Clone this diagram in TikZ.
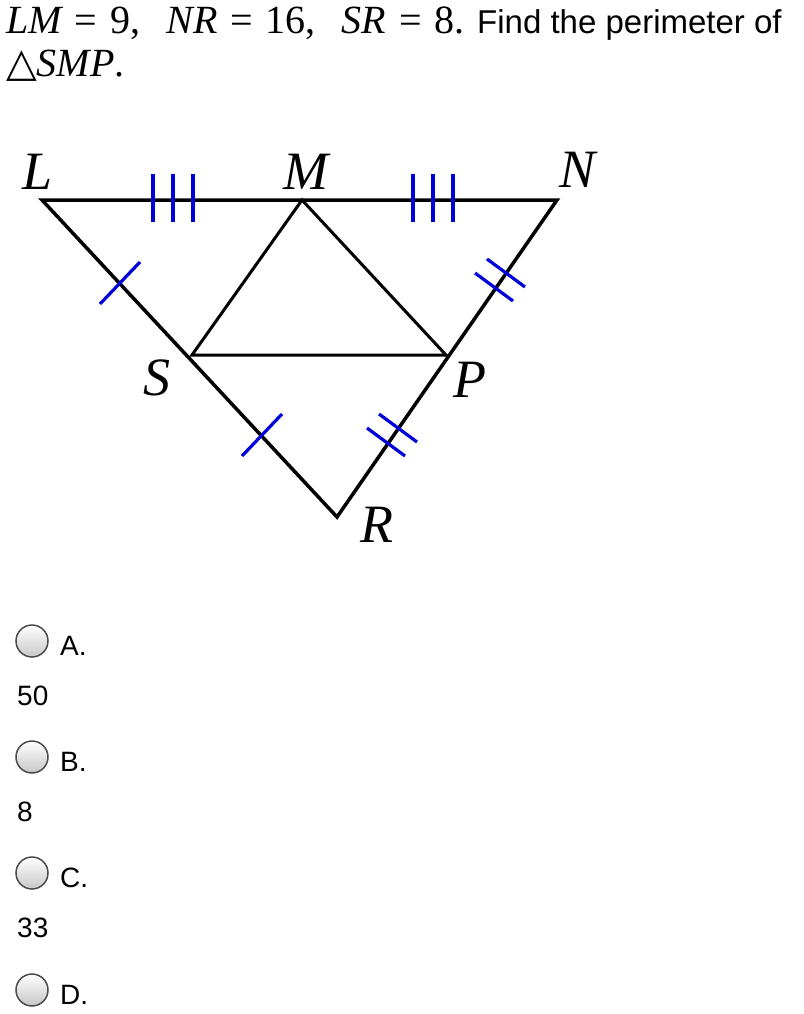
\documentclass[tikz,border=0pt]{standalone}
\usepackage{fontspec}
\setmainfont{Liberation Sans}
\newfontfamily\serif{Liberation Serif}
\newfontfamily\dv{DejaVu Serif}
\usetikzlibrary{calc}
\newcommand{\mi}[1]{{\serif\itshape #1}}
\newcommand{\mr}[1]{{\serif #1}}
\newcommand{\eqsp}{\hspace{13pt}=\hspace{13pt}}
\begin{document}
\begin{tikzpicture}[x=1pt,y=-1pt,
  seg/.style={line width=3.5pt},
  tick/.style={blue!85!black,line width=3.2pt},
  lab/.style={font=\fontsize{54}{54}\serif\itshape,inner sep=0pt},
  ans/.style={font=\fontsize{28}{28}\selectfont,anchor=base west,inner sep=0pt},
  radio/.style={circle,draw=black!70,line width=1.5pt,minimum size=32pt,inner sep=0pt,top color=white,bottom color=black!22}]
\useasboundingbox (0,0) rectangle (803,1014);
\node[anchor=base west,inner sep=0pt,font=\fontsize{33}{33}\selectfont] (t1) at (6,34) {{\fontsize{40}{40}\selectfont\mi{LM}\mr{\eqsp 9,\hspace{26pt}}\mi{NR}\mr{\eqsp 16,\hspace{26pt}}\mi{SR}\mr{\eqsp 8.}} Find the perimeter of};
\node[anchor=base west,inner sep=0pt,font=\fontsize{40}{40}\selectfont] (t2) at (6,77) {{\dv △}\mi{SMP}\mr{.}};
\coordinate (L) at (42,200); \coordinate (M) at (302,200); \coordinate (N) at (557,200);
\coordinate (S) at (192,355); \coordinate (P) at (446,355); \coordinate (R) at (337,517);
\draw[seg,line join=miter] (L) -- (N) -- (R) -- cycle;
\draw[line width=3pt] (S) -- (M) -- (P) -- cycle;
% ticks
\foreach \x in {153,173,193,413,433,453} \draw[tick] (\x,174) -- (\x,222);
\foreach \a/\b in {120/283,262/435} \draw[tick] (\a-20,\b+21) -- (\a+20,\b-21);
\foreach \a/\b in {500/280,392/435} {
  \draw[tick] (\a-25,\b-7) -- (\a+13,\b+21);
  \draw[tick] (\a-13,\b-21) -- (\a+25,\b+7);}
\node[lab] (nL) at (38,172) {L};
\node[lab] (nM) at (306,172) {M};
\node[lab] (nN) at (578,170) {N};
\node[lab] (nS) at (157,378) {S};
\node[lab] (nP) at (470,380) {P};
\node[lab] (nR) at (377,525) {R};
% answers
\foreach \y/\l/\v [count=\i] in {641/A./50,757/B./8,873/C./33,990/D./} {
  \node[radio] (r\i) at (32,\y) {};
  \node[ans] (a\i) at (60,\y+14) {\l};
  \node[ans] (v\i) at (17,\y+64) {\v};
}
\end{tikzpicture}
\end{document}
